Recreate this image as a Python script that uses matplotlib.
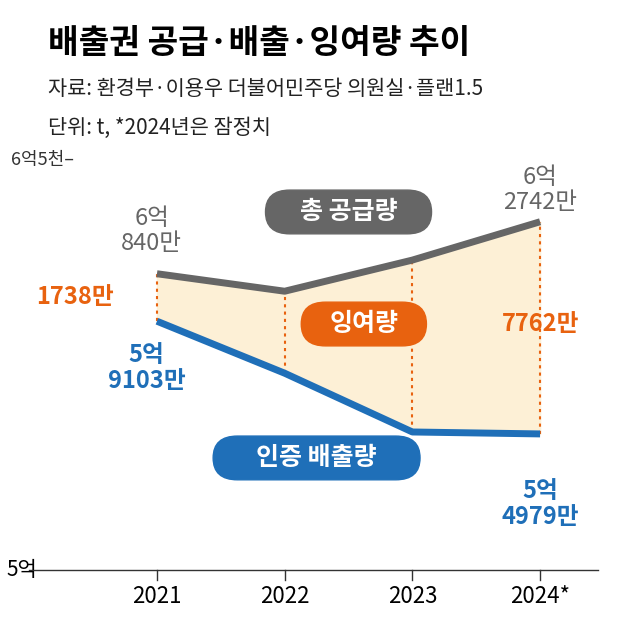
import matplotlib.pyplot as plt
from matplotlib.patches import FancyBboxPatch

plt.rcParams['font.family'] = 'Noto Sans CJK KR'

years = [2021, 2022, 2023, 2024]
year_labels = ['2021', '2022', '2023', '2024*']
supply = [608.4, 602.0, 613.4, 627.42]    # 백만 t
emission = [591.03, 572.0, 550.5, 549.79]  # 백만 t

GREY = '#666666'
BLUE = '#1f6fb8'
ORANGE = '#e8620f'
FILL = '#fdf0d6'

fig = plt.figure(figsize=(6.42, 6.24), dpi=100)
ax = fig.add_axes([0, 0, 1, 1])
ax.set_xlim(2019.771, 2024.798)
ax.set_ylim(480.24, 708.56)
ax.axis('off')

ax.fill_between(years, emission, supply, color=FILL, zorder=1)
for x, lo, hi in zip(years, emission, supply):
    ax.plot([x, x], [lo, hi], color=ORANGE, lw=1.5, ls=(0, (1.5, 2)), zorder=2)
ax.plot(years, supply, color=GREY, lw=5, solid_capstyle='butt', zorder=3)
ax.plot(years, emission, color=BLUE, lw=5, solid_capstyle='butt', zorder=3)

# baseline and ticks
ax.plot([2020.0, 2024.45], [500, 500], color='#333', lw=1)
for x, lab in zip(years, year_labels):
    ax.plot([x, x], [500, 496.5], color='#333', lw=1)
    ax.text(x, 494.5, lab, ha='center', va='top', fontsize=16)
ax.text(2019.82, 500, '5억', ha='left', va='center', fontsize=15)
ax.text(2019.86, 650, '6억5천–', ha='left', va='center', fontsize=13, color='#333')

# titles
fig.text(0.075, 0.93, '배출권 공급·배출·잉여량 추이', fontsize=24, fontweight='bold', va='center')
fig.text(0.075, 0.857, '자료: 환경부·이용우 더불어민주당 의원실·플랜1.5', fontsize=15, va='center', color='#222')
fig.text(0.075, 0.795, '단위: t, *2024년은 잠정치', fontsize=15, va='center', color='#222')

# value labels
ax.text(2020.96, 624, '6억\n840만', ha='center', va='center', fontsize=17, color=GREY, linespacing=1.1)
ax.text(2024.0, 639, '6억\n2742만', ha='center', va='center', fontsize=17, color=GREY, linespacing=1.1)
ax.text(2020.36, 600, '1738만', ha='center', va='center', fontsize=17, color=ORANGE, fontweight='bold')
ax.text(2024.0, 590, '7762만', ha='center', va='center', fontsize=17, color=ORANGE, fontweight='bold')
ax.text(2020.92, 574, '5억\n9103만', ha='center', va='center', fontsize=17, color=BLUE, fontweight='bold', linespacing=1.1)
ax.text(2024.0, 524, '5억\n4979만', ha='center', va='center', fontsize=17, color=BLUE, fontweight='bold', linespacing=1.1)

# pills
def pill(x, y, w, h, txt, color):
    ax.add_patch(FancyBboxPatch((x - w / 2, y - h / 2), w, h,
                                boxstyle='round,pad=0,rounding_size=0.19',
                                mutation_aspect=h / 0.38, color=color, zorder=4))
    ax.text(x, y, txt, ha='center', va='center', fontsize=18, color='white',
            fontweight='bold', zorder=5)

pill(2022.5, 631, 1.3, 16, '총 공급량', GREY)
pill(2022.62, 590, 0.98, 16, '잉여량', ORANGE)
pill(2022.25, 541, 1.62, 16, '인증 배출량', BLUE)

fig.savefig('out.png', dpi=100)
